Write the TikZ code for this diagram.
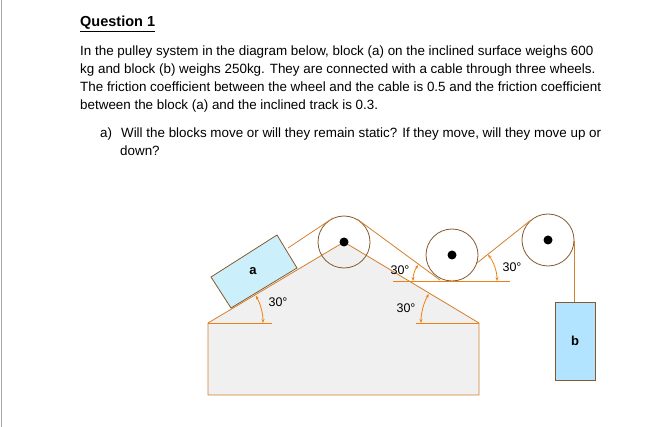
\documentclass[tikz,border=0pt]{standalone}
\usepackage{fontspec}
\setmainfont{Liberation Sans}
\usetikzlibrary{arrows.meta}
\begin{document}
\begin{tikzpicture}[x=1pt,y=-1pt,
  txt/.style={anchor=base west,inner sep=0,font=\fontsize{13.4}{15}\selectfont},
  cab/.style={draw=brown!70!orange,line width=0.8pt},
  wheel/.style={circle,draw=brown!70!black,line width=0.8pt,minimum size=52pt,inner sep=0},
  ang/.style={draw=orange!80!brown,line width=0.8pt,{Stealth[length=4pt]}-{Stealth[length=4pt]}},
  angl/.style={cab,draw=orange!70!brown},
  lab/.style={inner sep=0,font=\fontsize{12.5}{14}\selectfont}]
\useasboundingbox (0,0) rectangle (660,427);
\draw[gray!70] (1,0) -- (1,427);
\node[txt,font=\bfseries\fontsize{14.5}{16}\selectfont] (q) at (80,27) {\underline{Question 1}};
\node[txt] (l1) at (80,56) {In the pulley system in the diagram below, block (a) on the inclined surface weighs 600};
\node[txt] (l2) at (80,74) {kg and block (b) weighs 250kg. They are connected with a cable through three wheels.};
\node[txt] (l3) at (80,92) {The friction coefficient between the wheel and the cable is 0.5 and the friction coefficient};
\node[txt] (l4) at (80,110) {between the block (a) and the inclined track is 0.3.};
\node[txt] (l5) at (100,138) {a)\hspace{9pt}Will the blocks move or will they remain static? If they move, will they move up or};
\node[txt] (l6) at (120,156) {down?};
% base
\draw[fill=gray!12,draw=brown!70!orange,line width=0.8pt] (208,395) -- (208,323) -- (344,242) -- (479,323) -- (479,395) -- cycle;
% block a
\draw[fill=cyan!20,draw=brown!70!black,line width=0.8pt] (211,277) -- (277,235) -- (297,268) -- (231,308) -- cycle;
\node[lab,font=\bfseries\fontsize{13}{14}\selectfont] (a) at (253,271) {a};
% block b
\node[draw=brown!70!black,line width=0.8pt,fill=blue!35!cyan!30,minimum width=40pt,minimum height=78pt,inner sep=0,font=\bfseries\fontsize{13}{14}\selectfont] (b) at (575,341) {b};
% wheels
\node[wheel] (w1) at (344,242) {};
\node[wheel] (w2) at (452,255) {};
\node[wheel] (w3) at (548,240) {};
\foreach \w in {w1,w2,w3} \fill (\w) circle (4.5pt);
% cables
\coordinate (ca) at (288,248);
\draw[cab] (ca) -- (333,218);
\draw[cab] (357,219) -- (440,280);
\draw[cab] (477,263) -- (531,220);
\draw[cab] (574,241) -- (b.north -| 574,0);
% horizontal refs
\draw[angl] (393,281) -- (510,281);
\draw[angl] (208,323) -- (272,323);
\draw[angl] (416,323) -- (479,323);
% arcs
\draw[ang] (208,323)++(0:55) arc (0:-30:55);
\draw[ang] (479,323)++(180:58) arc (180:210:58);
\draw[ang] (440,281)++(180:27) arc (180:216:27);
\draw[ang] (454,281)++(0:43) arc (0:-38:43);
\node[lab] (t1) at (278,302) {30°};
\node[lab] (t2) at (406,308) {30°};
\node[lab] (t3) at (400,270) {30°};
\node[lab] (t4) at (512,267) {30°};
\end{tikzpicture}
\end{document}
